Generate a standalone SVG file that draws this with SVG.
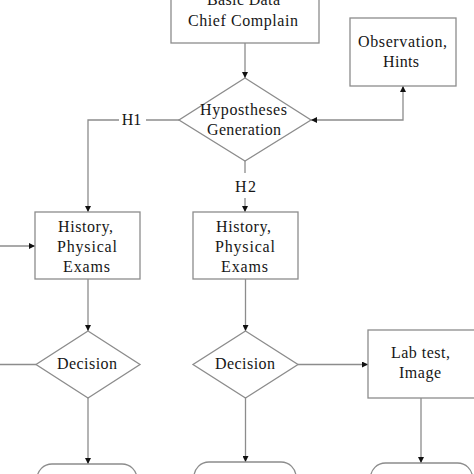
<svg xmlns="http://www.w3.org/2000/svg" width="474" height="474" viewBox="0 0 474 474">
<style>
.shape{fill:#ffffff;stroke:#8c8c8c;stroke-width:1.3}
.conn{fill:none;stroke:#8c8c8c;stroke-width:1.3}
.arr{marker-end:url(#ah)}
text{font-family:"Liberation Serif","Times New Roman",serif;font-size:16px;fill:#161616;text-anchor:middle}
</style>
<defs>
<marker id="ah" viewBox="0 0 10 10" refX="10" refY="5" markerWidth="6" markerHeight="6" markerUnits="userSpaceOnUse" orient="auto-start-reverse">
<path d="M0,0 L10,5 L0,10 z" fill="#111"/>
</marker>
</defs>
<rect width="474" height="474" fill="#ffffff"/>
<g id="connectors">
<path class="conn arr" d="M245,43 V78"/>
<path class="conn" d="M179,120 H146"/>
<path class="conn arr" d="M119,120 H88 V212"/>
<path class="conn" d="M245,161 V173"/>
<path class="conn arr" d="M245,198 V212"/>
<path class="conn arr" d="M311,120 H403 V86" style="marker-start:url(#ah)"/>
<path class="conn arr" d="M0,246 H35"/>
<path class="conn arr" d="M88,279 V331"/>
<path class="conn arr" d="M245.5,279 V331"/>
<path class="conn" d="M0,364.5 H36"/>
<path class="conn arr" d="M298,364.5 H368"/>
<path class="conn arr" d="M88,398 V464"/>
<path class="conn arr" d="M245.5,398 V462"/>
<path class="conn arr" d="M421,398 V463"/>
</g>
<g id="basic-data">
<rect class="shape" x="171" y="-30" width="148" height="73"/>
<text x="243.5" y="5" textLength="73" lengthAdjust="spacing">Basic Data</text>
<text x="243" y="26" textLength="110" lengthAdjust="spacing">Chief Complain</text>
</g>
<g id="observation">
<rect class="shape" x="350" y="18" width="106" height="68"/>
<text x="402.5" y="47" textLength="89" lengthAdjust="spacing">Observation,</text>
<text x="401" y="67" textLength="36" lengthAdjust="spacing">Hints</text>
</g>
<g id="hypotheses">
<polygon class="shape" points="245,78 311,120 245,161 179,120"/>
<text x="243.5" y="115" textLength="87" lengthAdjust="spacing">Hypostheses</text>
<text x="244" y="135" textLength="74" lengthAdjust="spacing">Generation</text>
</g>
<g id="label-h1"><text x="131.5" y="125">H1</text></g>
<g id="label-h2"><text x="245.5" y="192" textLength="21" lengthAdjust="spacing">H2</text></g>
<g id="history-left">
<rect class="shape" x="35" y="212" width="105" height="67"/>
<text x="85.5" y="232" textLength="55" lengthAdjust="spacing">History,</text>
<text x="87" y="252" textLength="60" lengthAdjust="spacing">Physical</text>
<text x="86.5" y="272" textLength="47" lengthAdjust="spacing">Exams</text>
</g>
<g id="history-right">
<rect class="shape" x="193" y="212" width="105" height="67"/>
<text x="243.5" y="232" textLength="55" lengthAdjust="spacing">History,</text>
<text x="245" y="252" textLength="60" lengthAdjust="spacing">Physical</text>
<text x="244.5" y="272" textLength="47" lengthAdjust="spacing">Exams</text>
</g>
<g id="decision-left">
<polygon class="shape" points="88,331 140,364.5 88,398 36,364.5"/>
<text x="87" y="369" textLength="60" lengthAdjust="spacing">Decision</text>
</g>
<g id="decision-right">
<polygon class="shape" points="245.5,331 298,364.5 245.5,398 193,364.5"/>
<text x="245" y="369" textLength="60" lengthAdjust="spacing">Decision</text>
</g>
<g id="lab-test">
<rect class="shape" x="368" y="330" width="110" height="68"/>
<text x="420.5" y="358" textLength="59" lengthAdjust="spacing">Lab test,</text>
<text x="420" y="378" textLength="42" lengthAdjust="spacing">Image</text>
</g>
<g id="outcome-left"><rect class="shape" x="37" y="464" width="100" height="40" rx="15"/></g>
<g id="outcome-middle"><rect class="shape" x="194" y="462" width="102" height="40" rx="15"/></g>
<g id="outcome-right"><rect class="shape" x="370.5" y="463" width="102" height="40" rx="15"/></g>
</svg>
